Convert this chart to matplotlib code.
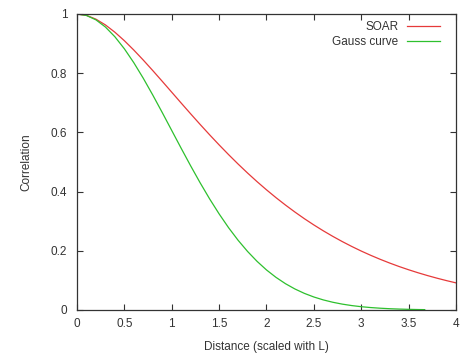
import matplotlib
matplotlib.use("Agg")
import matplotlib.pyplot as plt

plt.rcParams['font.family'] = ['Liberation Sans', 'DejaVu Sans']

distance = [0.0, 0.1, 0.2, 0.3, 0.4, 0.5, 0.6, 0.7, 0.8, 0.9,
            1.0, 1.1, 1.2, 1.3, 1.4, 1.5, 1.6, 1.7, 1.8, 1.9,
            2.0, 2.1, 2.2, 2.3, 2.4, 2.5, 2.6, 2.7, 2.8, 2.9,
            3.0, 3.1, 3.2, 3.3, 3.4, 3.5, 3.6, 3.7, 3.8, 3.9, 4.0]
soar = [1.000, 0.9953, 0.9825, 0.9631, 0.9384, 0.9098, 0.8781, 0.8442, 0.8088, 0.7725,
        0.7358, 0.6990, 0.6626, 0.6268, 0.5918, 0.5578, 0.5249, 0.4932, 0.4628, 0.4337,
        0.4060, 0.3796, 0.3546, 0.3309, 0.3084, 0.2873, 0.2674, 0.2487, 0.2311, 0.2146,
        0.1991, 0.1847, 0.1712, 0.1586, 0.1468, 0.1359, 0.1257, 0.1162, 0.1074, 0.0992, 0.0916]

gauss_distance = [0.0, 0.1, 0.2, 0.3, 0.4, 0.5, 0.6, 0.7, 0.8, 0.9,
                  1.0, 1.1, 1.2, 1.3, 1.4, 1.5, 1.6, 1.7, 1.8, 1.9,
                  2.0, 2.1, 2.2, 2.3, 2.4, 2.5, 2.6, 2.7, 2.8, 2.9,
                  3.0, 3.1, 3.2, 3.3, 3.4, 3.5, 3.6, 3.67]
gauss = [1.000, 0.9950, 0.9802, 0.9560, 0.9231, 0.8825, 0.8353, 0.7827, 0.7261, 0.6670,
         0.6065, 0.5461, 0.4868, 0.4296, 0.3753, 0.3247, 0.2780, 0.2357, 0.1979, 0.1645,
         0.1353, 0.1103, 0.0889, 0.0710, 0.0561, 0.0439, 0.0340, 0.0261, 0.0198, 0.0149,
         0.0111, 0.0082, 0.0060, 0.0043, 0.0031, 0.0022, 0.0015, 0.0012]

xticks = [0, 0.5, 1, 1.5, 2, 2.5, 3, 3.5, 4]
xticklabels = ['0', '0.5', '1', '1.5', '2', '2.5', '3', '3.5', '4']
yticks = [0, 0.2, 0.4, 0.6, 0.8, 1]
yticklabels = ['0', '0.2', '0.4', '0.6', '0.8', '1']

fig = plt.figure(figsize=(4.74, 3.55), dpi=100)
ax = fig.add_axes([0.1624, 0.1268, 0.962 - 0.1624, 0.9606 - 0.1268])

ax.plot(distance, soar, color='#e63a3a', lw=0.9, label='SOAR')
ax.plot(gauss_distance, gauss, color='#2ec02e', lw=0.9, label='Gauss curve')

ax.set_xlim(0, 4)
ax.set_ylim(0, 1)
ax.set_xticks(xticks)
ax.set_xticklabels(xticklabels)
ax.set_yticks(yticks)
ax.set_yticklabels(yticklabels)
ax.tick_params(direction='in', length=4, width=0.8, color='#333333',
               top=True, right=True, labelsize=8.5, labelcolor='#333333')
ax.tick_params(axis='x', pad=6)
ax.tick_params(axis='y', pad=7)
for s in ax.spines.values():
    s.set_color('#333333')
    s.set_linewidth(0.9)

ax.set_xlabel('Distance (scaled with L)', fontsize=8.5, color='#333333', labelpad=8)
ax.set_ylabel('Correlation', fontsize=8.5, color='#333333', labelpad=13)

leg = ax.legend(loc='upper right', bbox_to_anchor=(1 - 9 / 379, 1),
                frameon=False, markerfirst=False, fontsize=8.5,
                handlelength=2.8, handletextpad=0.7, borderaxespad=0.2,
                labelspacing=0.25)
for t in leg.get_texts():
    t.set_color('#333333')

fig.savefig('out.png', dpi=100)
